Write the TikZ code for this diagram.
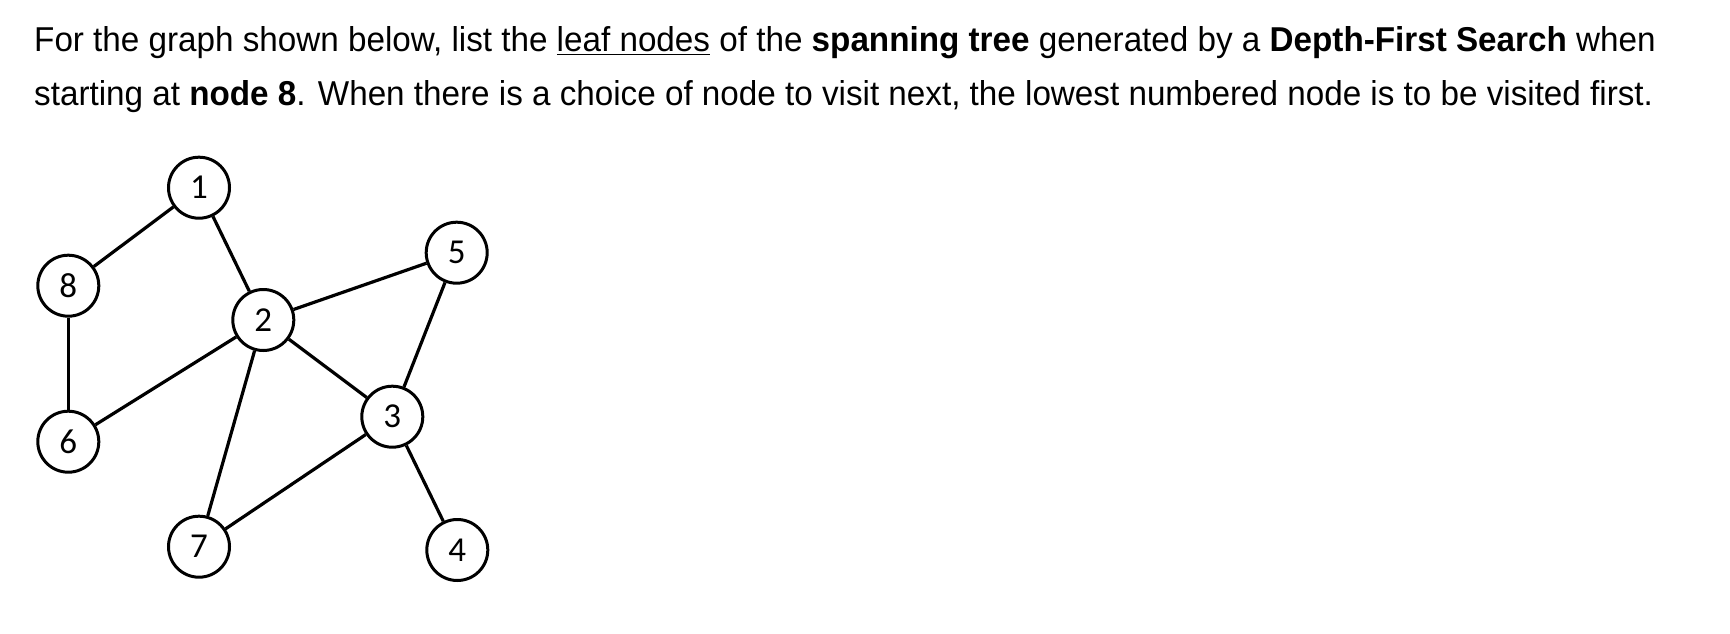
\documentclass[tikz,border=0pt]{standalone}
\usepackage{fontspec}
\setmainfont[FakeStretch=0.963]{Liberation Sans}
\newfontfamily\numfont{Carlito}
\begin{document}
\begin{tikzpicture}[x=1pt,y=-1pt,
  vert/.style={circle,draw=black,line width=3pt,minimum size=61pt,inner sep=0pt,fill=white,font=\numfont\fontsize{35}{35}\selectfont},
  edge/.style={line width=3.2pt,black},
  txt/.style={anchor=base west,inner sep=0pt,font=\fontsize{34.5}{40}\selectfont}]
\useasboundingbox[fill=white] (0,0) rectangle (1730,634);
\node[txt] (l1) at (34,52) {For the graph shown below, list the \underline{leaf nodes} of the \textbf{spanning tree} generated by a \textbf{Depth-First Search} when};
\node[txt] (l2) at (34,106) {starting at \textbf{node 8}. When there is a choice of node to visit next, the lowest numbered node is to be visited first.};
\node[vert] (n1) at (199,187.7) {1};
\node[vert] (n8) at (68.3,285.7) {8};
\node[vert] (n2) at (263.3,320) {2};
\node[vert] (n5) at (456.7,252.7) {5};
\node[vert] (n6) at (68.3,441.7) {6};
\node[vert] (n3) at (392.3,416.7) {3};
\node[vert] (n7) at (199,546.7) {7};
\node[vert] (n4) at (457.3,550) {4};
\draw[edge] (n8) -- (n1);
\draw[edge] (n1) -- (n2);
\draw[edge] (n8) -- (n6);
\draw[edge] (n2) -- (n5);
\draw[edge] (n2) -- (n6);
\draw[edge] (n2) -- (n7);
\draw[edge] (n2) -- (n3);
\draw[edge] (n5) -- (n3);
\draw[edge] (n3) -- (n7);
\draw[edge] (n3) -- (n4);
\end{tikzpicture}
\end{document}
